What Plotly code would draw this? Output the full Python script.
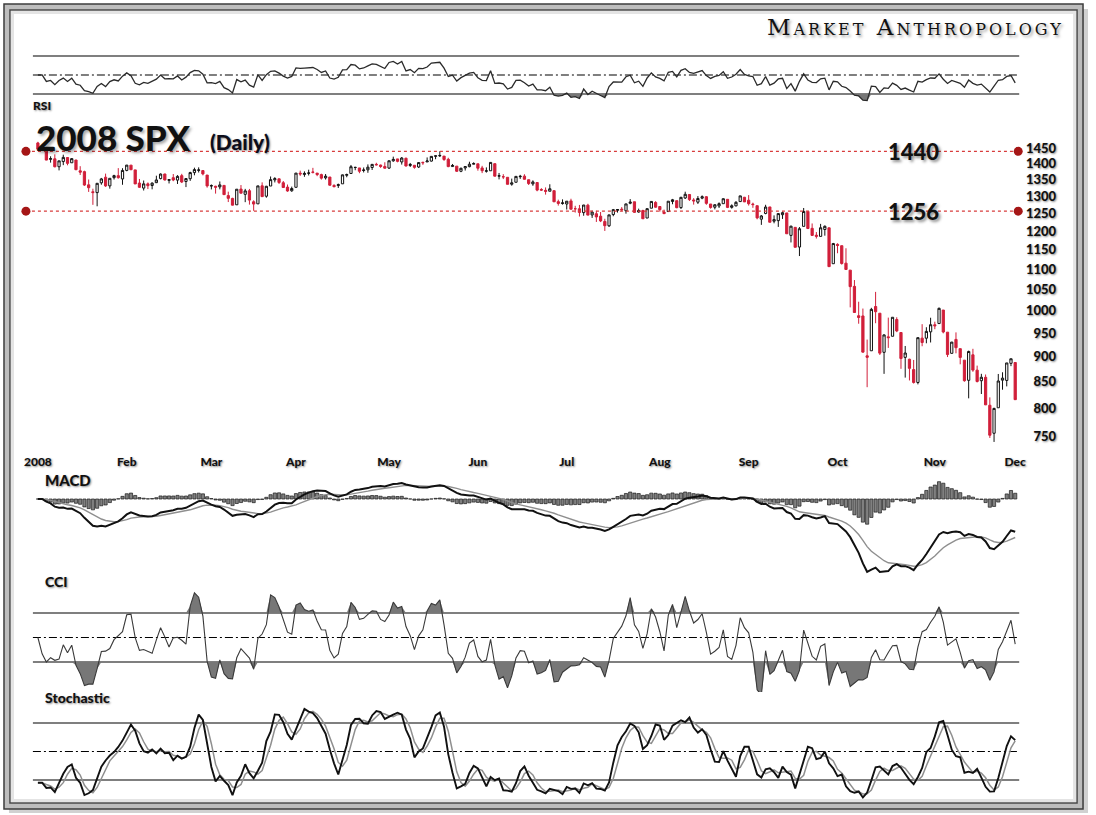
import numpy as np
import plotly.graph_objects as go

# ---------------- data (S&P 500 daily, 2 Jan 2008 - 1 Dec 2008) ----------------
OPEN = [1467.97, 1447.55, 1444.01, 1414.07, 1415.71, 1390.25, 1406.78, 1419.91, 1402.91, 1411.88, 1377.41, 1374.79, 1333.90, 1312.94, 1310.41, 1340.13, 1357.32, 1330.70, 1355.94, 1362.22, 1351.98,
        1378.60, 1395.38, 1380.28, 1339.48, 1324.01, 1336.88, 1331.92, 1340.55, 1353.12, 1367.33, 1347.52, 1355.86, 1348.39, 1362.21, 1344.22, 1352.75, 1371.76, 1378.95, 1378.16, 1364.07,
        1330.45, 1329.58, 1327.69, 1332.20, 1301.53, 1293.16, 1274.40, 1321.13, 1305.26, 1316.05, 1283.21, 1277.16, 1330.97, 1299.67, 1330.29, 1349.07, 1352.45, 1340.34, 1327.02, 1315.92,
        1326.41, 1369.96, 1365.69, 1369.85, 1373.69, 1370.16, 1365.50, 1355.37, 1357.98, 1332.20, 1331.72, 1337.02, 1363.37, 1369.00, 1387.72, 1386.43, 1378.40, 1380.52, 1387.88, 1397.96, 1395.61, 1391.22,
        1385.97, 1409.16, 1415.34, 1405.60, 1417.49, 1394.29, 1394.90, 1389.40, 1404.40, 1405.65, 1408.36, 1423.89, 1425.28, 1424.49, 1414.06, 1390.83, 1392.20, 1375.97, 1386.54, 1390.50, 1398.36,
        1399.62, 1386.42, 1376.26, 1377.48, 1400.06, 1360.83, 1358.98, 1357.09, 1335.78, 1341.81, 1358.85, 1360.71, 1349.59, 1336.89, 1341.02, 1319.77, 1317.23, 1314.54, 1316.29, 1283.60, 1278.06,
        1276.69, 1285.82, 1262.96, 1262.90, 1251.84, 1273.38, 1245.25, 1248.66, 1241.61, 1226.83, 1214.65, 1246.31, 1258.22, 1261.82, 1257.08, 1278.87, 1283.22, 1253.51, 1257.76, 1236.38, 1264.52, 1281.37,
        1269.42, 1253.27, 1254.87, 1283.99, 1286.51, 1266.29, 1294.42, 1304.79, 1288.64, 1282.11, 1293.85, 1298.14, 1276.65, 1267.34, 1271.07, 1277.59, 1290.47, 1267.03, 1271.29, 1283.79, 1296.49,
        1287.83, 1276.61, 1271.80, 1233.21, 1249.50, 1268.16, 1227.50, 1229.04, 1245.88, 1250.92, 1188.31, 1210.34, 1157.08, 1213.11, 1255.37, 1207.61, 1188.79, 1185.62, 1204.47, 1209.07, 1113.78,
        1164.17, 1160.64, 1115.16, 1097.56, 1057.60, 988.91, 988.42, 902.31, 912.75, 1009.97, 994.60, 909.53, 942.29, 943.51, 980.40, 951.67, 899.08, 895.22, 874.28, 848.92, 939.51, 939.38, 953.11,
        968.67, 971.31, 1001.84, 952.40, 907.44, 936.75, 917.15, 893.39, 853.13, 904.36, 873.23, 852.34, 859.03, 805.87, 755.84, 801.20, 853.40, 852.90, 886.89,
        888.61]
HIGH = [1471.77, 1456.80, 1444.01, 1423.87, 1430.28, 1409.19, 1429.09, 1419.91, 1417.89, 1411.88, 1391.99, 1377.72, 1350.28, 1322.09, 1339.09, 1355.15, 1368.56, 1353.97, 1364.93, 1385.86, 1385.62,
        1396.02, 1395.38, 1380.28, 1351.96, 1347.16, 1341.22, 1341.40, 1362.10, 1369.23, 1368.16, 1350.00, 1367.28, 1363.71, 1367.94, 1354.30, 1374.36, 1387.34, 1388.34, 1378.16, 1364.07,
        1335.13, 1331.03, 1344.19, 1332.20, 1313.24, 1295.01, 1320.65, 1333.26, 1321.68, 1321.47, 1287.50, 1330.74, 1341.51, 1330.67, 1359.68, 1357.47, 1352.45, 1345.62, 1334.87, 1328.52,
        1370.18, 1377.95, 1375.66, 1380.91, 1386.74, 1370.16, 1368.39, 1367.24, 1357.98, 1335.64, 1337.72, 1365.49, 1368.60, 1395.90, 1390.23, 1386.43, 1387.87, 1397.72, 1399.11, 1402.90, 1397.00, 1404.57,
        1410.07, 1422.72, 1415.34, 1421.57, 1419.54, 1402.35, 1394.90, 1404.06, 1406.30, 1420.19, 1424.40, 1425.82, 1440.24, 1424.49, 1419.12, 1399.07, 1392.20, 1387.40, 1391.25, 1406.32, 1404.46,
        1399.62, 1393.12, 1388.18, 1404.05, 1400.06, 1370.63, 1366.84, 1357.09, 1353.03, 1360.03, 1364.70, 1366.59, 1349.59, 1347.66, 1341.02, 1323.78, 1326.02, 1335.63, 1316.29, 1289.45, 1290.31,
        1285.31, 1292.17, 1271.48, 1273.95, 1274.17, 1277.36, 1257.65, 1257.27, 1253.50, 1234.35, 1245.52, 1262.31, 1262.23, 1267.74, 1277.42, 1291.17, 1283.22, 1263.23, 1260.09, 1263.20, 1284.33, 1284.93,
        1270.52, 1260.49, 1284.88, 1291.67, 1286.51, 1297.85, 1313.15, 1304.79, 1294.03, 1300.11, 1302.05, 1300.22, 1276.65, 1276.01, 1281.40, 1293.09, 1290.47, 1275.65, 1285.05, 1300.68, 1297.59,
        1303.04, 1280.60, 1271.80, 1244.94, 1274.42, 1268.16, 1243.90, 1249.98, 1255.09, 1250.92, 1214.84, 1210.34, 1211.14, 1265.12, 1255.37, 1221.15, 1197.41, 1220.03, 1215.77, 1209.07, 1168.03,
        1167.03, 1160.64, 1153.82, 1097.56, 1072.91, 1021.06, 1005.25, 936.36, 1006.93, 1044.31, 994.60, 947.71, 984.64, 985.40, 985.44, 951.67, 922.83, 896.30, 893.78, 940.51, 969.97, 963.23, 984.38,
        975.57, 1007.51, 1001.84, 952.40, 931.46, 951.95, 917.15, 893.39, 913.01, 916.88, 882.29, 865.90, 864.57, 820.52, 801.20, 865.60, 868.94, 887.68, 896.25,
        888.61]
LOW = [1442.07, 1443.73, 1411.19, 1403.45, 1388.30, 1378.70, 1395.31, 1394.83, 1402.91, 1379.41, 1364.27, 1330.67, 1312.51, 1274.29, 1270.05, 1334.31, 1327.50, 1322.26, 1350.19, 1352.95, 1334.08,
       1375.93, 1379.69, 1336.64, 1324.34, 1316.75, 1321.06, 1320.32, 1339.36, 1350.78, 1347.31, 1338.13, 1345.05, 1336.55, 1339.34, 1327.04, 1346.03, 1363.29, 1372.00, 1363.16, 1325.42,
       1320.04, 1307.39, 1320.22, 1303.42, 1282.43, 1272.66, 1274.40, 1307.86, 1282.11, 1274.86, 1256.98, 1277.16, 1298.42, 1295.22, 1330.29, 1341.21, 1336.41, 1325.66, 1312.95, 1312.81,
       1326.41, 1361.55, 1358.68, 1362.83, 1369.02, 1360.62, 1349.97, 1350.11, 1331.21, 1326.16, 1324.35, 1337.02, 1357.25, 1369.00, 1379.25, 1369.84, 1372.24, 1371.09, 1379.98, 1394.40, 1386.70, 1384.25,
       1383.07, 1406.25, 1404.37, 1397.10, 1391.16, 1389.39, 1384.11, 1386.20, 1396.26, 1405.65, 1406.87, 1414.35, 1421.63, 1409.09, 1388.81, 1390.23, 1373.72, 1373.07, 1378.16, 1388.59, 1398.08,
       1377.79, 1370.12, 1371.74, 1377.48, 1359.90, 1350.62, 1351.56, 1335.47, 1331.29, 1341.71, 1352.07, 1350.54, 1333.40, 1330.94, 1314.46, 1315.31, 1304.42, 1314.54, 1283.15, 1272.00, 1274.86,
       1260.68, 1261.51, 1252.01, 1240.68, 1242.84, 1244.57, 1236.76, 1225.35, 1225.01, 1200.44, 1211.39, 1241.49, 1251.81, 1255.70, 1248.83, 1276.06, 1251.48, 1251.75, 1234.37, 1236.38, 1264.52, 1265.97,
       1254.54, 1247.45, 1254.67, 1276.00, 1264.29, 1262.11, 1291.41, 1285.64, 1274.86, 1276.84, 1290.74, 1274.51, 1263.11, 1261.16, 1265.22, 1277.59, 1264.87, 1263.21, 1270.03, 1283.79, 1282.74,
       1272.20, 1265.59, 1232.83, 1217.23, 1247.12, 1224.51, 1221.60, 1211.54, 1233.81, 1192.70, 1169.28, 1155.88, 1133.50, 1213.11, 1205.61, 1187.06, 1179.79, 1185.62, 1187.54, 1106.42, 1113.78,
       1140.77, 1111.43, 1098.14, 1007.97, 996.23, 970.97, 909.19, 839.80, 912.75, 972.07, 903.99, 865.83, 918.74, 943.51, 952.47, 875.81, 858.44, 852.85, 846.75, 845.27, 922.26, 928.50, 930.23,
       958.82, 971.31, 949.86, 899.73, 906.90, 907.47, 884.90, 850.48, 818.69, 869.88, 848.98, 826.84, 806.18, 747.78, 741.02, 801.20, 834.99, 841.37, 881.21,
       815.69]
CLOSE = [1447.16, 1447.16, 1411.63, 1416.18, 1390.19, 1409.13, 1420.33, 1401.02, 1416.25, 1380.95, 1373.20, 1333.25, 1325.19, 1310.50, 1338.60, 1352.07, 1330.61, 1353.96, 1362.30, 1355.81, 1378.55,
         1395.42, 1380.82, 1336.64, 1326.45, 1336.91, 1331.29, 1339.13, 1348.86, 1367.21, 1348.86, 1349.99, 1348.78, 1360.03, 1342.53, 1353.11, 1371.80, 1381.29, 1380.02, 1367.68, 1330.63,
         1331.34, 1326.75, 1333.70, 1304.34, 1293.37, 1273.37, 1320.65, 1308.77, 1315.48, 1288.14, 1276.60, 1330.74, 1298.42, 1329.51, 1349.88, 1352.99, 1341.13, 1325.76, 1315.22, 1322.70,
         1370.18, 1367.53, 1369.31, 1370.40, 1372.54, 1365.54, 1354.49, 1360.55, 1332.83, 1328.32, 1334.43, 1364.71, 1365.56, 1390.33, 1388.17, 1375.94, 1379.93, 1388.82, 1397.84, 1396.37, 1390.94, 1385.59,
         1409.34, 1413.90, 1407.49, 1418.26, 1392.57, 1397.68, 1388.28, 1403.58, 1403.04, 1408.66, 1423.57, 1425.35, 1426.63, 1413.40, 1390.71, 1394.35, 1375.93, 1385.35, 1390.84, 1398.26, 1400.38,
         1385.67, 1377.65, 1377.20, 1404.05, 1360.68, 1361.76, 1358.44, 1335.49, 1339.87, 1360.03, 1360.14, 1350.93, 1337.81, 1342.83, 1317.93, 1318.00, 1314.29, 1321.97, 1283.15, 1278.38, 1280.00,
         1284.91, 1261.52, 1262.90, 1252.31, 1273.70, 1244.69, 1253.39, 1239.49, 1228.30, 1214.91, 1245.36, 1260.32, 1260.68, 1260.00, 1277.00, 1282.19, 1252.54, 1257.76, 1234.37, 1263.20, 1284.26, 1267.38,
         1260.31, 1249.01, 1284.88, 1289.19, 1266.07, 1296.32, 1305.32, 1289.59, 1285.83, 1292.93, 1298.20, 1278.60, 1266.69, 1274.54, 1277.72, 1292.20, 1266.84, 1271.51, 1281.66, 1300.68, 1282.83,
         1277.58, 1274.98, 1236.83, 1242.31, 1267.79, 1224.51, 1232.04, 1249.05, 1251.70, 1192.70, 1213.60, 1156.39, 1206.51, 1255.08, 1207.09, 1188.22, 1185.87, 1209.18, 1213.27, 1106.39, 1166.36,
         1161.06, 1114.28, 1099.23, 1056.89, 996.23, 984.94, 909.92, 899.22, 1003.35, 998.01, 907.84, 946.43, 940.55, 985.40, 955.05, 896.78, 908.11, 876.77, 848.92, 940.51, 930.09, 954.09, 968.75,
         966.30, 1005.75, 952.77, 904.88, 930.99, 919.21, 898.95, 852.30, 911.29, 873.29, 850.75, 859.12, 806.58, 752.44, 800.03, 851.81, 857.39, 887.68, 896.24,
         816.21]

MONTH_LABELS = ["2008", "Feb", "Mar", "Apr", "May", "Jun", "Jul", "Aug", "Sep", "Oct", "Nov", "Dec"]
MONTH_START_IDX = [0, 21, 41, 61, 83, 104, 125, 147, 168, 189, 212, 231]
PRICE_TICKS = [750, 800, 850, 900, 950, 1000, 1050, 1100, 1150, 1200, 1250, 1300, 1350, 1400, 1450]
PRICE_LEVELS = [1440, 1256]
RSI_LEVELS = [70, 50, 30]
CCI_LEVELS = [100, 0, -100]
STOCH_LEVELS = [80, 50, 20]

o = np.array(OPEN); h = np.array(HIGH); l = np.array(LOW); c = np.array(CLOSE)
n = len(c)
idx = np.arange(n)

# ---------------- indicators (derived from the price series) ----------------
def ema(x, span):
    a = 2.0 / (span + 1)
    out = np.empty_like(x)
    out[0] = x[0]
    for i in range(1, len(x)):
        out[i] = a * x[i] + (1 - a) * out[i - 1]
    return out

def rsi(x, p=14):
    d = np.diff(x)
    g = np.where(d > 0, d, 0.0); lo = np.where(d < 0, -d, 0.0)
    seed = np.abs(d[:p]).mean() / 2
    ag = al = seed
    out = np.full(len(x), 50.0)
    for i in range(len(d)):
        ag = (ag * (p - 1) + g[i]) / p
        al = (al * (p - 1) + lo[i]) / p
        out[i + 1] = 100 - 100 / (1 + ag / al)
    return out

def sma_exp(x, p):
    return np.array([x[max(0, i - p + 1):i + 1].mean() for i in range(len(x))])

def cci(hh, ll, cc, p=14):
    tp = (hh + ll + cc) / 3
    out = np.zeros(len(tp))
    for i in range(len(tp)):
        w = tp[max(0, i - p + 1):i + 1]
        m = w.mean(); md = np.abs(w - m).mean()
        out[i] = 0 if md == 0 else (tp[i] - m) / (0.015 * md)
    return out

def stoch(hh, ll, cc, p=14):
    k = np.zeros(len(cc))
    for i in range(len(cc)):
        hi = hh[max(0, i - p + 1):i + 1].max(); lw = ll[max(0, i - p + 1):i + 1].min()
        k[i] = 50 if hi == lw else (cc[i] - lw) / (hi - lw) * 100
    ks = sma_exp(k, 3)
    return ks, sma_exp(ks, 3)

rsi_v = rsi(c)
macd_v = ema(c, 12) - ema(c, 26)
sig_v = ema(macd_v, 9)
hist_v = macd_v - sig_v
cci_v = cci(h, l, c)
k_v, d_v = stoch(h, l, c)

# ---------------- geometry helpers ----------------
W, H = 1096, 815
X0_PX, X1_PX = 38.0, 1018.0            # pixel of first / last bar
STEP = (X1_PX - X0_PX) / (n - 1)

def px(p):
    return p / W

def py(p):
    return 1 - p / H

def xdom(a, b):
    return [px(a), px(b)]

def xrng(a, b):
    return [(a - X0_PX) / STEP, (b - X0_PX) / STEP]

def ydom(top, bottom):
    return [py(bottom), py(top)]

fig = go.Figure()
CLEAR = dict(width=0, color="rgba(0,0,0,0)")

# ---------- RSI panel (x / y) ----------
fig.add_trace(go.Scatter(x=idx, y=np.full(n, 30.0), mode="lines", line=CLEAR, xaxis="x", yaxis="y", hoverinfo="skip"))
fig.add_trace(go.Scatter(x=idx, y=np.minimum(rsi_v, 30), mode="lines", line=CLEAR,
                         fill="tonexty", fillcolor="#777777", xaxis="x", yaxis="y", hoverinfo="skip"))
fig.add_trace(go.Scatter(x=idx, y=np.full(n, 70.0), mode="lines", line=CLEAR, xaxis="x", yaxis="y", hoverinfo="skip"))
fig.add_trace(go.Scatter(x=idx, y=np.maximum(rsi_v, 70), mode="lines", line=CLEAR,
                         fill="tonexty", fillcolor="#777777", xaxis="x", yaxis="y", hoverinfo="skip"))
fig.add_trace(go.Scatter(x=idx, y=rsi_v, mode="lines", line=dict(width=1.3, color="#2a2a2a"),
                         xaxis="x", yaxis="y", name="RSI"))

# ---------- price panel (x2 / y2) ----------
fig.add_trace(go.Candlestick(
    x=idx, open=o, high=h, low=l, close=c, xaxis="x2", yaxis="y2", name="SPX",
    increasing=dict(line=dict(color="#111111", width=1), fillcolor="#ffffff"),
    decreasing=dict(line=dict(color="#d11f3a", width=1), fillcolor="#d11f3a"),
    whiskerwidth=0))

lx = xrng(26, 1021)
for lev in PRICE_LEVELS:
    fig.add_trace(go.Scatter(x=lx, y=[lev, lev], mode="lines",
                             line=dict(color="#d83c3c", width=1.2, dash="dot"),
                             xaxis="x2", yaxis="y2", hoverinfo="skip"))
    fig.add_trace(go.Scatter(x=lx, y=[lev, lev], mode="markers",
                             marker=dict(size=9, color="#a51616"), cliponaxis=False,
                             xaxis="x2", yaxis="y2", hoverinfo="skip"))
    fig.add_annotation(x=(916 - X0_PX) / STEP, y=np.log10(lev), xref="x2", yref="y2",
                       text=str(lev), showarrow=False, xanchor="center", yanchor="middle",
                       font=dict(family="Lato", size=22, color="#111111", weight=900,
                                 shadow="2px 2px 3px rgba(0,0,0,0.45)"))

# ---------- MACD panel (x3 / y3) ----------
fig.add_trace(go.Bar(x=idx, y=hist_v, marker=dict(color="#808080", line=dict(color="#1a1a1a", width=0.7)),
                     xaxis="x3", yaxis="y3", name="Hist"))
fig.add_trace(go.Scatter(x=idx, y=sig_v, mode="lines", line=dict(color="#8f8f8f", width=1.4),
                         xaxis="x3", yaxis="y3", name="Signal"))
fig.add_trace(go.Scatter(x=idx, y=macd_v, mode="lines", line=dict(color="#111111", width=2),
                         xaxis="x3", yaxis="y3", name="MACD"))

# ---------- CCI panel (x4 / y4) ----------
fig.add_trace(go.Scatter(x=idx, y=np.full(n, -100.0), mode="lines", line=CLEAR, xaxis="x4", yaxis="y4", hoverinfo="skip"))
fig.add_trace(go.Scatter(x=idx, y=np.minimum(cci_v, -100), mode="lines", line=CLEAR,
                         fill="tonexty", fillcolor="#777777", xaxis="x4", yaxis="y4", hoverinfo="skip"))
fig.add_trace(go.Scatter(x=idx, y=np.full(n, 100.0), mode="lines", line=CLEAR, xaxis="x4", yaxis="y4", hoverinfo="skip"))
fig.add_trace(go.Scatter(x=idx, y=np.maximum(cci_v, 100), mode="lines", line=CLEAR,
                         fill="tonexty", fillcolor="#777777", xaxis="x4", yaxis="y4", hoverinfo="skip"))
fig.add_trace(go.Scatter(x=idx, y=cci_v, mode="lines", line=dict(color="#3a3a3a", width=1.1),
                         xaxis="x4", yaxis="y4", name="CCI"))

# ---------- Stochastic panel (x5 / y5) ----------
fig.add_trace(go.Scatter(x=idx, y=d_v, mode="lines", line=dict(color="#8f8f8f", width=1.5),
                         xaxis="x5", yaxis="y5", name="%D"))
fig.add_trace(go.Scatter(x=idx, y=k_v, mode="lines", line=dict(color="#111111", width=1.9),
                         xaxis="x5", yaxis="y5", name="%K"))

# ---------- frame + reference lines ----------
shapes = []
shapes.append(dict(type="rect", xref="paper", yref="paper", x0=px(9), x1=px(1091), y0=py(813), y1=py(9),
                   fillcolor="rgba(0,0,0,0.18)", line=dict(width=0), layer="below"))
shapes.append(dict(type="rect", xref="paper", yref="paper", x0=px(4), x1=px(1086), y0=py(809), y1=py(4),
                   fillcolor="#bdbdbd", line=dict(color="#3c3c3c", width=1.5), layer="below"))
shapes.append(dict(type="rect", xref="paper", yref="paper", x0=px(10), x1=px(1080), y0=py(803), y1=py(10),
                   fillcolor="#ffffff", line=dict(color="#4a4a4a", width=1.5), layer="below"))
shapes.append(dict(type="rect", xref="paper", yref="paper", x0=px(12.5), x1=px(1077.5), y0=py(800.5), y1=py(12.5),
                   fillcolor="rgba(0,0,0,0)", line=dict(color="#e4e4e4", width=3), layer="below"))

def level_lines(levels, xr, yr):
    for k, lev in enumerate(levels):
        shapes.append(dict(type="line", xref=xr + " domain", yref=yr, x0=0, x1=1, y0=lev, y1=lev,
                           line=dict(color="#000000", width=1.1, dash="solid" if k != 1 else "8px,3px,2px,3px"),
                           layer="below"))

level_lines(RSI_LEVELS, "x", "y")
level_lines(CCI_LEVELS, "x4", "y4")
level_lines(STOCH_LEVELS, "x5", "y5")

# ---------- text ----------
SH = "1px 1px 2px rgba(0,0,0,0.45)"
def label(text, xp, yp, size, anchor="left", family="Lato", shadow=SH, color="#111111", weight=900):
    fig.add_annotation(x=px(xp), y=py(yp), xref="paper", yref="paper", text=text, showarrow=False,
                       xanchor=anchor, yanchor="middle", borderpad=0,
                       font=dict(family=family, size=size, color=color, weight=weight, shadow=shadow))

label("2008 SPX", 35, 136.5, 35, shadow="2px 2px 3px rgba(0,0,0,0.35)")
label("(Daily)", 210, 141.5, 21, color="#0d0d1a")
label("RSI", 32, 105.5, 12)
label("MACD", 44, 480, 15)
label("CCI", 44, 581, 14)
label("Stochastic", 44, 697, 14)
fig.add_annotation(x=px(1069), y=py(27), xref="paper", yref="paper",
                   text='<span style="letter-spacing:3px">Market Anthropology</span>', showarrow=False,
                   xanchor="right", yanchor="middle",
                   font=dict(family="DejaVu Serif", size=23, color="#111111", variant="small-caps",
                             shadow="2px 2px 3px rgba(0,0,0,0.4)"))

# ---------- axes ----------
mmin = float(macd_v.min())
s = (572 - 499) / (-mmin)
macd_range = [-(582 - 499) / s, (499 - 474) / s]

TICKFONT = dict(family="Lato", size=13, color="#111111", weight=900, shadow=SH)
hidden = dict(visible=False, showgrid=False, zeroline=False, fixedrange=True)
fig.update_layout(
    width=W, height=H, autosize=False, margin=dict(l=0, r=0, t=0, b=0),
    paper_bgcolor="#ffffff", plot_bgcolor="rgba(0,0,0,0)", showlegend=False,
    bargap=0.25, boxgap=0.25, shapes=shapes,
    xaxis=dict(domain=xdom(33, 1022), range=xrng(33, 1022), **hidden),
    yaxis=dict(domain=ydom(45, 105), range=[30 - (105 - 94) / 0.95, 70 + (56 - 45) / 0.95], **hidden),
    xaxis2=dict(domain=xdom(22, 1026), range=xrng(22, 1026), anchor="y2",
                tickmode="array", tickvals=MONTH_START_IDX, ticktext=MONTH_LABELS,
                ticks="outside", ticklen=6, tickcolor="rgba(0,0,0,0)", showline=False, showgrid=False,
                zeroline=False, rangeslider=dict(visible=False),
                tickfont=dict(family="Lato", size=12, color="#111111", weight=900, shadow=SH)),
    yaxis2=dict(domain=ydom(140, 445), type="log", range=[2.86678, 3.16965],
                anchor="free", side="left", position=px(1059),
                tickmode="array", tickvals=PRICE_TICKS, ticktext=[str(t) for t in PRICE_TICKS],
                ticks="", showline=False, showgrid=False, zeroline=False, tickfont=TICKFONT),
    xaxis3=dict(domain=xdom(33, 1022), range=xrng(33, 1022), anchor="y3", **hidden),
    yaxis3=dict(domain=ydom(474, 582), range=macd_range, anchor="x3", **hidden),
    xaxis4=dict(domain=xdom(33, 1022), range=xrng(33, 1022), anchor="y4", **hidden),
    yaxis4=dict(domain=ydom(585, 692), range=[-(692 - 637.5) / 0.245, (637.5 - 585) / 0.245], anchor="x4", **hidden),
    xaxis5=dict(domain=xdom(33, 1022), range=xrng(33, 1022), anchor="y5", **hidden),
    yaxis5=dict(domain=ydom(700, 800), range=[50 - (800 - 751.5) / 0.95, 50 + (751.5 - 700) / 0.95], anchor="x5", **hidden),
)
fig.update_yaxes(fixedrange=True)

fig.write_html("out.html")
